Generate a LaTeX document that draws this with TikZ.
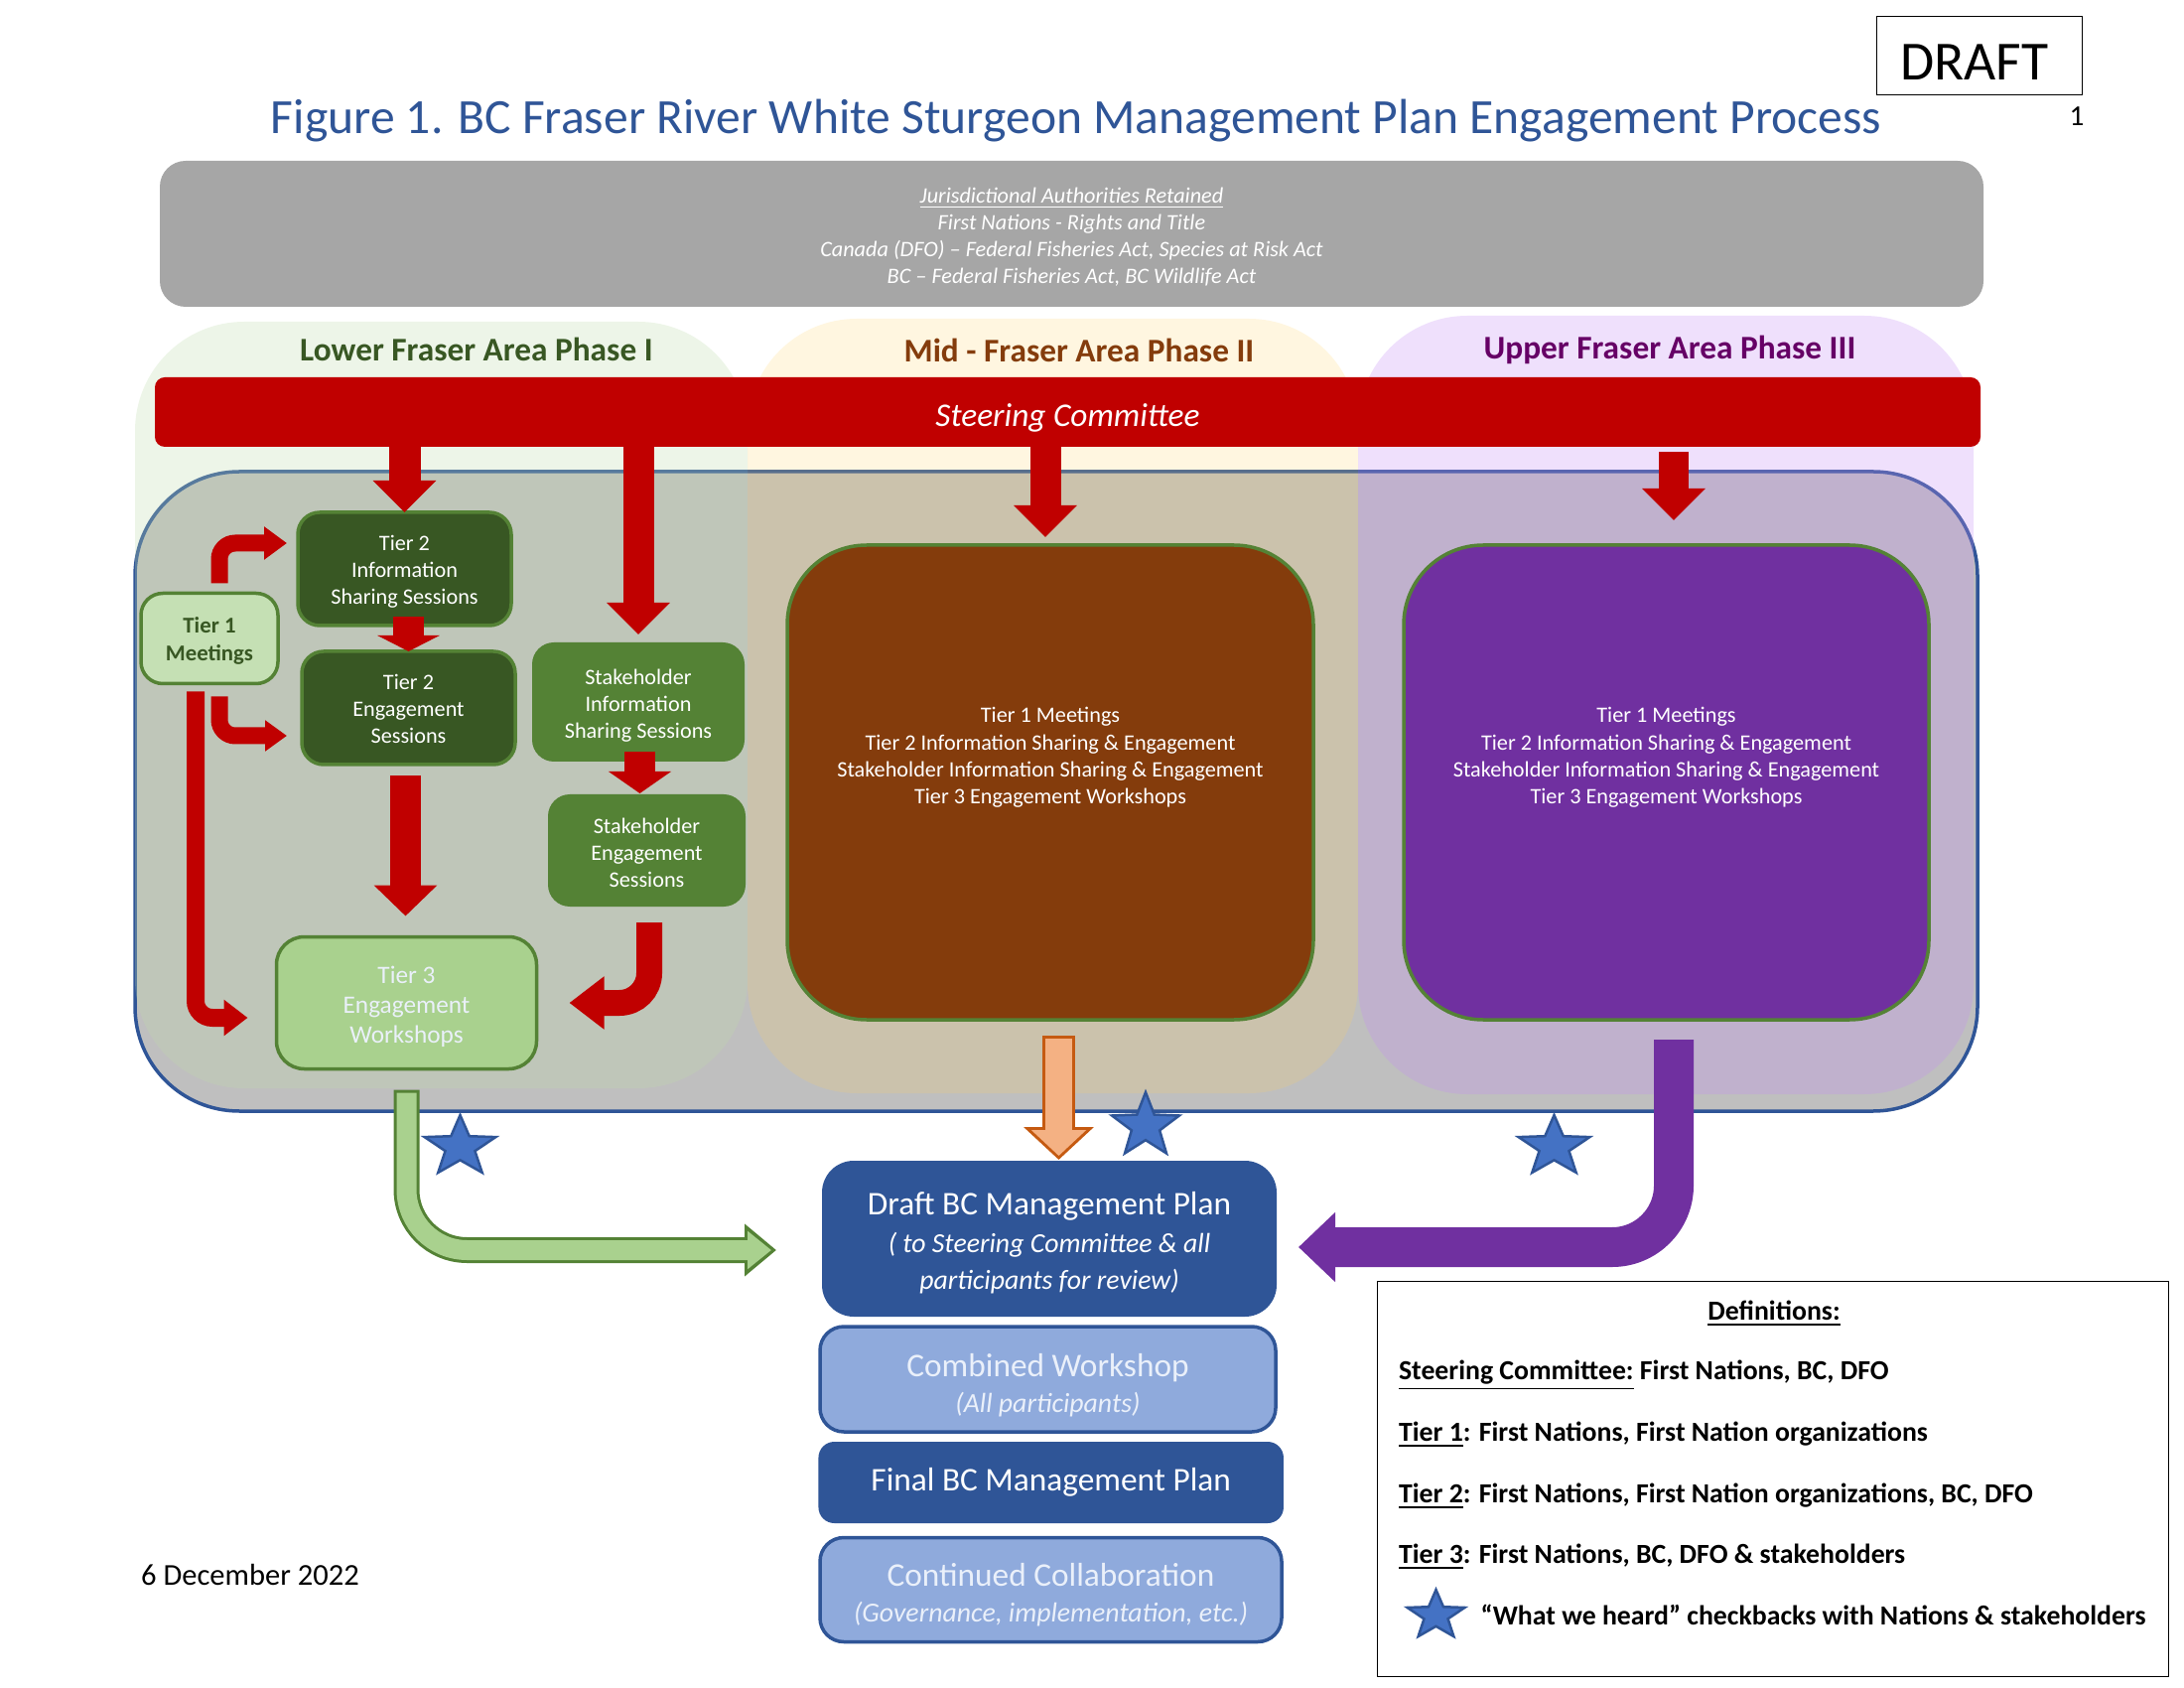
\documentclass[tikz,border=0pt]{standalone}
\usepackage{fontspec}
\setmainfont{Carlito}
\usetikzlibrary{arrows.meta,shapes.geometric}
\def\px{.36pt}
\newcommand{\subline}{\fontsize{10}{12}\selectfont\itshape}
\definecolor{navy}{HTML}{2F5597}
\definecolor{midblue}{HTML}{8FAADC}
\definecolor{starblue}{HTML}{4472C4}
\definecolor{steerred}{HTML}{C00000}
\definecolor{darkgreen}{HTML}{385723}
\definecolor{leafgreen}{HTML}{548235}
\definecolor{lightgreen}{HTML}{A9D18E}
\definecolor{palegreen}{HTML}{C5E0B4}
\definecolor{brown}{HTML}{843C0C}
\definecolor{purple}{HTML}{7030A0}
\definecolor{plum}{HTML}{660066}
\definecolor{peach}{HTML}{F4B183}
\definecolor{rust}{HTML}{C55A11}
\definecolor{greyband}{HTML}{A6A6A6}
\definecolor{outergrey}{HTML}{BFBFBF}
\definecolor{washgreen}{RGB}{191,219,173}
\definecolor{washyellow}{RGB}{255,210,100}
\definecolor{washpurple}{RGB}{198,144,244}
\definecolor{softwhite}{HTML}{EAF0FA}
\tikzset{
  boxsize/.style 2 args={minimum width=#1*\px,minimum height=#2*\px},
  dropline/.style={execute at begin node={\rule{0pt}{#1}}},
  panel/.style={rectangle,inner sep=0pt,outer sep=0pt,align=center,text=white,rounded corners=22*\px,line width=3.5*\px,font=\fontsize{8}{9.75}\selectfont,dropline=0pt},
  phasearea/.style={rectangle,inner sep=0pt,outer sep=0pt,rounded corners=110*\px},
  phasetitle/.style={inner sep=0pt,font=\fontsize{12}{14}\selectfont\bfseries},
  planbox/.style={panel,rounded corners=24*\px,draw=navy,fill=midblue,text=softwhite,font=\fontsize{12}{14}\selectfont},
  rating/.style={star,star points=5,star point ratio=2.4,inner sep=0pt,outer sep=0pt,draw=navy,fill=starblue,line width=2.5*\px},
  deftext/.style={anchor=west,inner sep=0pt,font=\fontsize{10}{12}\selectfont\bfseries},
  blockarrow/.style n args={3}{line width=#1*\px,-{Triangle[width=#2*\px,length=#3*\px]}}
}
\begin{document}
\begin{tikzpicture}[x=.36pt,y=-.36pt]
\useasboundingbox (0,0) rectangle (2200,1700);
\node[inner sep=0pt,font=\fontsize{17.85}{22}\selectfont,text=navy] (figtitle) at (1084,122) {Figure 1. BC Fraser River White Sturgeon Management Plan Engagement Process};
\node[draw=black,line width=.8*\px,inner sep=0pt,boxsize={207}{79}] (draftbox) at (1994,56) {};
\node[inner sep=0pt,font=\fontsize{20}{24}\selectfont] (draftmark) at (1989,63) {DRAFT};
\node[inner sep=0pt,font=\fontsize{10.5}{12}\selectfont] (pagenum) at (2092,117) {1};
\node[inner sep=0pt,font=\fontsize{11}{13}\selectfont] (datemark) at (252,1586) {6 December 2022};

\node[panel,fill=greyband,rounded corners=26*\px,boxsize={1837}{147},dropline=37.2pt] (authority) at (1079.5,235.5) {\itshape\underline{Jurisdictional Authorities Retained}\\\itshape First Nations - Rights and Title\\\itshape Canada (DFO) -- Federal Fisheries Act, Species at Risk Act\\\itshape BC -- Federal Fisheries Act, BC Wildlife Act};

\node[rectangle,inner sep=0pt,outer sep=0pt,draw=navy,fill=outergrey,line width=3.5*\px,rounded corners=105*\px,boxsize={1856}{644}] (region) at (1064,797) {};
\node[phasearea,fill=washgreen,fill opacity=.28,boxsize={617}{772}] (phaselower) at (444.5,710) {};
\node[phasearea,fill=washyellow,fill opacity=.2,boxsize={615}{780}] (phasemid) at (1060.5,711) {};
\node[phasearea,fill=washpurple,fill opacity=.28,boxsize={620}{784}] (phaseupper) at (1678,710) {};
\node[phasetitle,text=darkgreen] (lowertitle) at (480,352) {Lower Fraser Area Phase I};
\node[phasetitle,text=brown] (midtitle) at (1087,353) {Mid - Fraser Area Phase II};
\node[phasetitle,text=plum] (uppertitle) at (1682,352) {Upper Fraser Area Phase III};

\node[panel,fill=steerred,rounded corners=10*\px,boxsize={1839}{70},font=\fontsize{12}{14}\selectfont\itshape,dropline=12.5pt] (steering) at (1075.5,415) {Steering Committee};

\node[panel,draw=leafgreen,fill=darkgreen,boxsize={215}{114},dropline=26.8pt] (tierinfo) at (407.5,573) {Tier 2\\Information\\Sharing Sessions};
\node[panel,draw=leafgreen,fill=darkgreen,boxsize={215}{114},dropline=25.8pt] (tiereng) at (411.5,713) {Tier 2\\Engagement\\Sessions};
\node[panel,draw=leafgreen,fill=palegreen,text=darkgreen,boxsize={138}{91},font=\fontsize{8.2}{10.1}\selectfont\bfseries,dropline=17.5pt] (tierone) at (211,643) {Tier 1\\Meetings};
\node[panel,fill=leafgreen,boxsize={214}{120},dropline=28pt] (stakeinfo) at (643,707) {Stakeholder\\Information\\Sharing Sessions};
\node[panel,fill=leafgreen,boxsize={199}{113},dropline=27pt] (stakeeng) at (651.5,856.5) {Stakeholder\\Engagement\\Sessions};
\node[panel,draw=leafgreen,fill=lightgreen,text=softwhite,rounded corners=28*\px,boxsize={262}{133},font=\fontsize{9.1}{10.9}\selectfont,dropline=30.7pt] (tierthree) at (409.5,1010) {Tier 3\\Engagement\\Workshops};
\node[panel,draw=leafgreen,fill=brown,rounded corners=80*\px,boxsize={530}{478}] (midbox) at (1058,788) {Tier 1 Meetings\\Tier 2 Information Sharing \& Engagement\\Stakeholder Information Sharing \& Engagement\\Tier 3 Engagement Workshops\\~\\~};
\node[panel,draw=leafgreen,fill=purple,rounded corners=80*\px,boxsize={529}{478}] (upperbox) at (1678.5,788) {Tier 1 Meetings\\Tier 2 Information Sharing \& Engagement\\Stakeholder Information Sharing \& Engagement\\Tier 3 Engagement Workshops\\~\\~};

\node[planbox,fill=navy,draw=none,text=white,boxsize={458}{157},rounded corners=32*\px,dropline=38pt] (draftplan) at (1057,1247.5) {Draft BC Management Plan\\[0pt]{\subline ( to Steering Committee \& all}\\[-1pt]{\subline participants for review)}};
\node[planbox,boxsize={459}{106},dropline=26pt] (workshop) at (1055.5,1389) {Combined Workshop\\[-1pt]{\subline (All participants)}};
\node[planbox,fill=navy,draw=none,text=white,rounded corners=16*\px,boxsize={468.5}{82},dropline=8pt] (finalplan) at (1058.7,1493) {Final BC Management Plan};
\node[planbox,boxsize={465}{105},dropline=25.3pt] (continued) at (1058.5,1601) {Continued Collaboration\\[-1pt]{\subline (Governance, implementation, etc.)}};

\node[rectangle,draw=black,line width=.8*\px,inner sep=0pt,boxsize={797}{398}] (defbox) at (1785.5,1489) {};
\node[inner sep=0pt,font=\fontsize{10}{12}\selectfont\bfseries] (defhead) at (1787,1323) {\underline{Definitions:}};
\node[deftext] (defsteer) at (1408.5,1385) {\underline{Steering Committee:} First Nations, BC, DFO};
\node[deftext] (deftierone) at (1408.5,1445) {\underline{Tier 1}: First Nations, First Nation organizations};
\node[deftext] (deftiertwo) at (1408.5,1507) {\underline{Tier 2}: First Nations, First Nation organizations, BC, DFO};
\node[deftext] (deftierthree) at (1408.5,1568) {\underline{Tier 3}: First Nations, BC, DFO \& stakeholders};
\node[deftext] (defcheck) at (1491,1626) {``What we heard'' checkbacks with Nations \& stakeholders};

\node[rating,xscale=1.18,minimum size=64*\px] (starlower) at (463.5,1155) {};
\node[rating,xscale=1.05,minimum size=68*\px] (starmid) at (1154,1134) {};
\node[rating,xscale=1.18,minimum size=64*\px] (starupper) at (1565.5,1155) {};
\node[rating,xscale=1.17,minimum size=52*\px] (starkey) at (1446.5,1627) {};

\draw[steerred,blockarrow={32}{62}{32}] (steering.south -| tierinfo.north) -- (tierinfo.north);
\draw[steerred,blockarrow={31}{62}{32},shorten >=8*\px] (steering.south -| stakeinfo.north) -- (stakeinfo.north);
\draw[steerred,blockarrow={31}{62}{32}] ([xshift=-5*\px]steering.south -| midbox.north) -- ([shift={(-5,-8)}]midbox.north);
\draw[steerred,blockarrow={30}{62}{32}] ([shift={(7.5,5)}]steering.south -| upperbox.north) -- ([shift={(7.5,-25)}]upperbox.north);
\draw[steerred,blockarrow={17}{32}{23},rounded corners=16*\px] ([shift={(10,-10)}]tierone.north) |- ([shift={(-11,-26)}]tierinfo.west);
\draw[steerred,blockarrow={17}{30}{22},rounded corners=16*\px] ([shift={(10,13)}]tierone.south) |- ([shift={(-15,28)}]tiereng.west);
\draw[steerred,blockarrow={18}{35}{24},rounded corners=17*\px] ([shift={(-14,8)}]tierone.south) |- ([shift={(-29,15)}]tierthree.west);
\draw[steerred,blockarrow={31}{62}{16}] ([shift={(4,-9)}]tierinfo.south) -- (tiereng.north);
\draw[steerred,blockarrow={31}{62}{31}] ([shift={(-3,11)}]tiereng.south) -- ([shift={(-1,-21)}]tierthree.north);
\draw[steerred,blockarrow={31}{62}{22}] ([shift={(1.5,-10)}]stakeinfo.south) -- ([shift={(-7,-1)}]stakeeng.north);
\draw[steerred,blockarrow={26}{51}{35},rounded corners=30*\px] ([shift={(2.5,16)}]stakeeng.south) |- ([shift={(33,0)}]tierthree.east);

\draw[leafgreen,blockarrow={26}{51}{32},rounded corners=61*\px] ([yshift=-21*\px]tierthree.south) |- ([shift={(-46,11.5)}]draftplan.west);
\draw[lightgreen,blockarrow={20}{37}{24},rounded corners=61*\px,shorten <=3*\px,shorten >=5*\px] ([yshift=-21*\px]tierthree.south) |- ([shift={(-46,11.5)}]draftplan.west);
\draw[rust,blockarrow={33}{69}{33}] ([shift={(8.5,16)}]midbox.south) -- ([shift={(9.5,-1)}]draftplan.north);
\draw[peach,blockarrow={27}{54}{26},shorten <=3*\px,shorten >=4*\px] ([shift={(8.5,16)}]midbox.south) -- ([shift={(9.5,-1)}]draftplan.north);
\draw[purple,blockarrow={40}{68}{37},rounded corners=62*\px] ([shift={(7.5,20)}]upperbox.south) |- ([shift={(22,8.5)}]draftplan.east);
\end{tikzpicture}
\end{document}
